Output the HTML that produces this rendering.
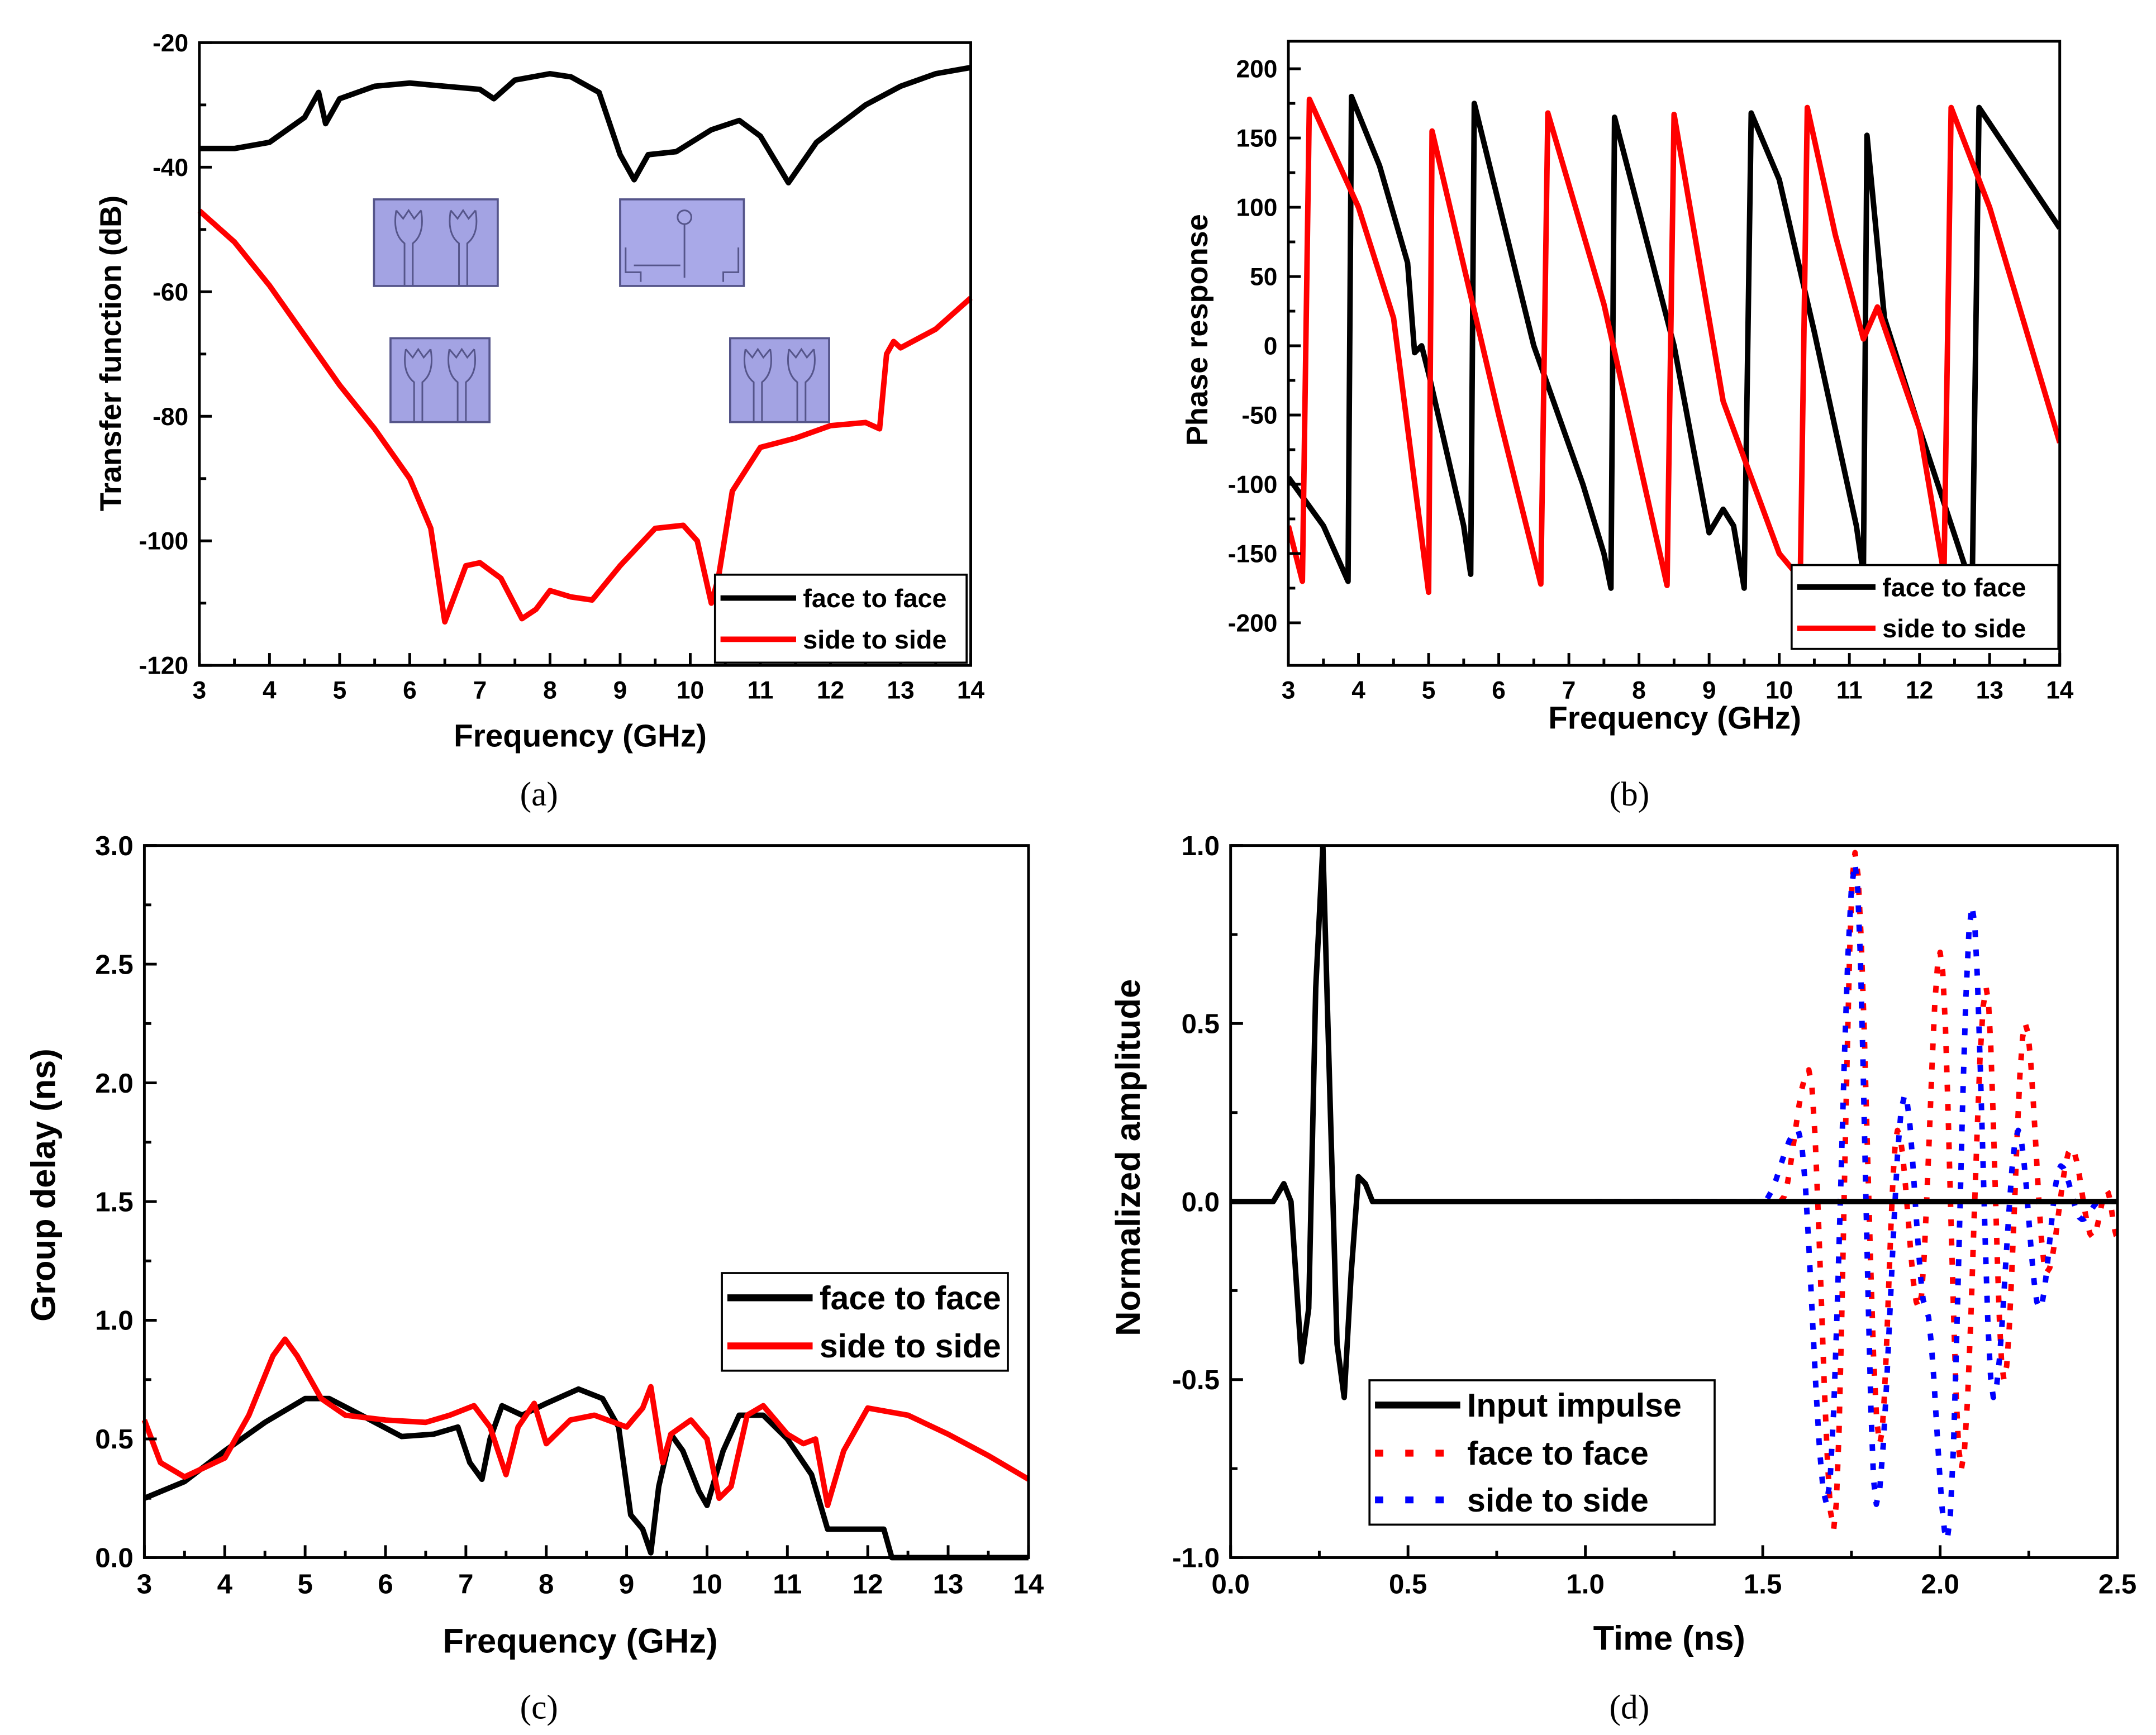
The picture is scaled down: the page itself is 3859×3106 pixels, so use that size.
<!DOCTYPE html>
<html><head><meta charset="utf-8">
<style>
html,body{margin:0;padding:0;background:#fff;}
svg{display:block;}
text{font-family:"Liberation Sans",sans-serif;font-weight:bold;fill:#000;}
.cap{font-family:"Liberation Serif",serif;font-weight:normal;}
</style></head>
<body>
<svg id="fig" width="3859" height="3106" viewBox="0 0 1568 1262" xmlns="http://www.w3.org/2000/svg"></svg>
<script>
// ---- Panel (a) data ----
const aTicksX=[3,4,5,6,7,8,9,10,11,12,13,14];
const aTicksY=[-20,-40,-60,-80,-100,-120];
const aFaceF=[3,3.5,4,4.5,4.7,4.8,5,5.5,6,6.5,7,7.2,7.5,8,8.3,8.7,9,9.2,9.4,9.8,10.3,10.7,11,11.4,11.8,12.5,13,13.5,14];
const aFaceV=[-37,-37,-36,-32,-28,-33,-29,-27,-26.5,-27,-27.5,-29,-26,-25,-25.5,-28,-38,-42,-38,-37.5,-34,-32.5,-35,-42.5,-36,-30,-27,-25,-24];
const aSideF=[3,3.5,4,4.5,5,5.5,6,6.3,6.5,6.6,6.8,7,7.3,7.6,7.8,8,8.3,8.6,9,9.5,9.9,10.1,10.3,10.4,10.6,11,11.5,12,12.5,12.7,12.8,12.9,13,13.5,14];
const aSideV=[-47,-52,-59,-67,-75,-82,-90,-98,-113,-110,-104,-103.5,-106,-112.5,-111,-108,-109,-109.5,-104,-98,-97.5,-100,-110,-106,-92,-85,-83.5,-81.5,-81,-82,-70,-68,-69,-66,-61];
// ---- Panel (b) data ----
const bTicksX=[3,4,5,6,7,8,9,10,11,12,13,14];
const bTicksY=[200,150,100,50,0,-50,-100,-150,-200];
const bFaceF=[3,3.5,3.85,3.9,4.3,4.7,4.8,4.9,5,5.5,5.6,5.65,6.5,7.2,7.5,7.6,7.65,8.5,9,9.2,9.35,9.5,9.6,10,10.5,11.1,11.2,11.25,11.5,12,12.75,12.85,14];
const bFaceV=[-95,-130,-170,180,130,60,-5,0,-20,-130,-165,175,0,-100,-150,-175,165,0,-135,-118,-130,-175,168,120,10,-130,-165,152,20,-60,-175,172,85];
const bSideF=[3,3.2,3.3,4,4.5,5,5.05,6,6.6,6.7,7.5,8.4,8.5,9.2,10,10.3,10.4,10.8,11.2,11.4,12,12.35,12.45,13,14];
const bSideV=[-130,-170,178,100,20,-178,155,-50,-172,168,30,-173,167,-40,-150,-168,172,80,5,28,-60,-165,172,100,-70];
// ---- Panel (c) data ----
const cTicksX=[3,4,5,6,7,8,9,10,11,12,13,14];
const cTicksY=[3.0,2.5,2.0,1.5,1.0,0.5,0.0];
const cFaceF=[3,3.5,4,4.5,5,5.3,5.7,6.2,6.6,6.9,7.05,7.2,7.3,7.45,7.7,8,8.4,8.7,8.9,9.05,9.2,9.3,9.4,9.55,9.7,9.9,10,10.2,10.4,10.7,11,11.3,11.5,12.2,12.3,14];
const cFaceV=[0.25,0.32,0.45,0.57,0.67,0.67,0.6,0.51,0.52,0.55,0.4,0.33,0.5,0.64,0.6,0.65,0.71,0.67,0.55,0.18,0.12,0.02,0.3,0.52,0.45,0.28,0.22,0.45,0.6,0.6,0.5,0.35,0.12,0.12,0,0];
const cSideF=[3,3.2,3.5,4,4.3,4.6,4.75,4.9,5.2,5.5,6,6.5,6.8,7.1,7.3,7.5,7.65,7.85,8,8.3,8.6,9,9.2,9.3,9.45,9.55,9.8,10,10.15,10.3,10.5,10.7,11,11.2,11.35,11.5,11.7,12,12.5,13,13.5,14];
const cSideV=[0.58,0.4,0.34,0.42,0.6,0.85,0.92,0.85,0.67,0.6,0.58,0.57,0.6,0.64,0.55,0.35,0.55,0.65,0.48,0.58,0.6,0.55,0.63,0.72,0.4,0.52,0.58,0.5,0.25,0.3,0.6,0.64,0.52,0.48,0.5,0.22,0.45,0.63,0.6,0.52,0.43,0.33];
// ---- Panel (d) data ----
const dTicksX=[0.0,0.5,1.0,1.5,2.0,2.5];
const dTicksY=[1.0,0.5,0.0,-0.5,-1.0];
const dInT=[0,0.12,0.15,0.17,0.2,0.22,0.24,0.26,0.28,0.3,0.32,0.34,0.36,0.38,0.4,2.5];
const dInV=[0,0,0.05,0,-0.45,-0.3,0.6,1.0,0.3,-0.4,-0.55,-0.2,0.07,0.05,0,0];
const dFaceT=[1.55,1.63,1.7,1.76,1.83,1.88,1.94,2.0,2.06,2.13,2.18,2.24,2.3,2.37,2.43,2.47,2.5];
const dFaceV=[0,0.37,-0.92,0.98,-0.68,0.2,-0.3,0.7,-0.75,0.6,-0.5,0.5,-0.2,0.15,-0.1,0.03,-0.1];
const dSideT=[1.0,1.5,1.6,1.68,1.76,1.82,1.9,1.96,2.02,2.09,2.15,2.22,2.28,2.34,2.4,2.45];
const dSideV=[0,0,0.2,-0.85,0.95,-0.85,0.3,-0.3,-0.95,0.83,-0.55,0.2,-0.3,0.1,-0.05,0];

const NS="http://www.w3.org/2000/svg";
const svg=document.getElementById('fig');
function mk(tag,attrs,parent){const e=document.createElementNS(NS,tag);for(const k in attrs)e.setAttribute(k,attrs[k]);(parent||svg).appendChild(e);return e;}
function txt(s,x,y,size,anchor,parent,cls){const t=mk('text',{x:x,y:y,'font-size':size,'text-anchor':anchor||'middle'},parent);if(cls)t.setAttribute('class',cls);t.textContent=s;return t;}
function scale(d0,d1,p0,p1){return v=>p0+(v-d0)*(p1-p0)/(d1-d0);}

function axes(g,box,xs,ys,xt,yt,fs,fmt,xmin,ymin){
  mk('rect',{x:box.x0,y:box.y0,width:box.x1-box.x0,height:box.y1-box.y0,fill:'none',stroke:'#000','stroke-width':2},g);
  xt.forEach((v,i)=>{const x=xs(v);mk('line',{x1:x,y1:box.y1,x2:x,y2:box.y1-9,stroke:'#000','stroke-width':2},g);
    const t=txt(fmt.x(v),x,box.y1+fs+6,fs,'middle',g);
    if(i<xt.length-1){const xm=xs((v+xt[i+1])/2);mk('line',{x1:xm,y1:box.y1,x2:xm,y2:box.y1-5,stroke:'#000','stroke-width':2},g);}});
  yt.forEach((v,i)=>{const y=ys(v);mk('line',{x1:box.x0,y1:y,x2:box.x0+9,y2:y,stroke:'#000','stroke-width':2},g);
    const t=txt(fmt.y(v),box.x0-8,y+fs*0.35,fs,'end',g);
    if(i<yt.length-1){const ym=ys((v+yt[i+1])/2);mk('line',{x1:box.x0,y1:ym,x2:box.x0+5,y2:ym,stroke:'#000','stroke-width':2},g);}});
}
function poly(g,xs,ys,X,Y,color,w,dash,name){
  const p=X.map((x,i)=>xs(x).toFixed(1)+','+ys(Y[i]).toFixed(1)).join(' ');
  const e=mk('polyline',{points:p,fill:'none',stroke:color,'stroke-width':w,'stroke-linejoin':'round'},g);
  if(dash)e.setAttribute('stroke-dasharray',dash);
  
  
  return e;
}
function osc(T,V){const X=[],Y=[];for(let i=0;i<T.length-1;i++){for(let k=0;k<8;k++){const f=k/8,s=(1-Math.cos(Math.PI*f))/2;X.push(T[i]+(T[i+1]-T[i])*f);Y.push(V[i]+(V[i+1]-V[i])*s);}}X.push(T[T.length-1]);Y.push(V[V.length-1]);return [X,Y];}
function legend(g,x0,y0,x1,y1,items,fs,lineLen){
  const r=mk('rect',{x:x0,y:y0,width:x1-x0,height:y1-y0,fill:'#fff',stroke:'#000','stroke-width':1.5},g);
  
  items.forEach(it=>{const l=mk('line',{x1:x0+4,y1:it.y,x2:x0+4+lineLen,y2:it.y,stroke:it.c,'stroke-width':it.w},g);
    if(it.dash)l.setAttribute('stroke-dasharray',it.dash);
    
    const t=txt(it.t,x0+lineLen+9,it.y+fs*0.35,fs,'start',g);});
}
const f0={x:v=>String(v),y:v=>String(v)};
const f1={x:v=>v.toFixed(1),y:v=>v.toFixed(1)};
const fx0y1={x:v=>String(v),y:v=>v.toFixed(1)};

// Panel a
{const g=mk('g',{});
 const box={x0:145,x1:706,y0:31,y1:484};const xs=scale(3,14,box.x0,box.x1),ys=scale(-20,-120,box.y0,box.y1);
 // insets
 [[272,145,90,63],[451,145,90,63],[284,246,72,61],[531,246,72,61]].forEach((r,i)=>{
  const ig=mk('g',{},g);
  mk('rect',{x:r[0],y:r[1],width:r[2],height:r[3],fill:i==1?'#a9a9e8':'#a3a3e3',stroke:'#55558a','stroke-width':1.5},ig);
  if(i!=1){[0.28,0.72].forEach(f=>{const cx=r[0]+r[2]*f;mk('path',{d:`M${cx-9},${r[1]+8} Q${cx-12},${r[1]+25} ${cx-3},${r[1]+32} L${cx-3},${r[1]+r[3]} M${cx+9},${r[1]+8} Q${cx+12},${r[1]+25} ${cx+3},${r[1]+32} L${cx+3},${r[1]+r[3]} M${cx-9},${r[1]+8} L${cx-4},${r[1]+14} L${cx},${r[1]+8} L${cx+4},${r[1]+14} L${cx+9},${r[1]+8}`,fill:'none',stroke:'#55558a','stroke-width':1.2},ig);});}
  else{const cx=r[0]+r[2]*0.52;mk('circle',{cx:cx,cy:r[1]+13,r:5,fill:'none',stroke:'#55558a','stroke-width':1.2},ig);
   mk('path',{d:`M${cx},${r[1]+18} L${cx},${r[1]+r[3]-6} M${r[0]+4},${r[1]+35} L${r[0]+4},${r[1]+r[3]-10} L${r[0]+15},${r[1]+r[3]-10} L${r[0]+15},${r[1]+r[3]-3} M${r[0]+r[2]-4},${r[1]+35} L${r[0]+r[2]-4},${r[1]+r[3]-10} L${r[0]+r[2]-15},${r[1]+r[3]-10} L${r[0]+r[2]-15},${r[1]+r[3]-3} M${r[0]+10},${r[1]+r[3]-15} L${cx-3},${r[1]+r[3]-15}`,fill:'none',stroke:'#55558a','stroke-width':1.2},ig);}
 });
 poly(g,xs,ys,aFaceF,aFaceV,'#000',4,null,'face-to-face-line');
 poly(g,xs,ys,aSideF,aSideV,'#f00',4,null,'side-to-side-line');
 axes(g,box,xs,ys,aTicksX,aTicksY,18,f0);
 let t=txt('Transfer function (dB)',0,0,22,'middle',g);t.setAttribute('transform','translate(88,257) rotate(-90)');
 t=txt('Frequency (GHz)',422,543,23,'middle',g);
 legend(g,520,418,703,482,[{t:'face to face',y:435,c:'#000',w:4},{t:'side to side',y:465,c:'#f00',w:4}],19,55);
 t=txt('(a)',392,586,25,'middle',g,'cap');}

// Panel b
{const g=mk('g',{});
 const box={x0:937,x1:1498,y0:30,y1:484};const xs=scale(3,14,box.x0,box.x1),ys=scale(200,-200,50,453);
 const cp=mk('clipPath',{id:'cpb'},g);mk('rect',{x:box.x0,y:box.y0,width:box.x1-box.x0,height:box.y1-box.y0},cp);
 const inner=mk('g',{'clip-path':'url(#cpb)'},g);
 poly(inner,xs,ys,bFaceF,bFaceV,'#000',4,null,'face-to-face-line');
 poly(inner,xs,ys,bSideF,bSideV,'#f00',4,null,'side-to-side-line');
 axes(g,box,xs,ys,bTicksX,bTicksY,18,f0);
 let t=txt('Phase response',0,0,22,'middle',g);t.setAttribute('transform','translate(878,240) rotate(-90)');
 t=txt('Frequency (GHz)',1218,530,23,'middle',g);
 legend(g,1303,411,1497,472,[{t:'face to face',y:427,c:'#000',w:4},{t:'side to side',y:457,c:'#f00',w:4}],19,57);
 t=txt('(b)',1185,586,25,'middle',g,'cap');}

// Panel c
{const g=mk('g',{});
 const box={x0:105,x1:748,y0:615,y1:1133};const xs=scale(3,14,box.x0,box.x1),ys=scale(3,0,box.y0,box.y1);
 poly(g,xs,ys,cFaceF,cFaceV,'#000',4,null,'face-to-face-line');
 poly(g,xs,ys,cSideF,cSideV,'#f00',4,null,'side-to-side-line');
 axes(g,box,xs,ys,cTicksX,cTicksY,20,fx0y1);
 let t=txt('Group delay (ns)',0,0,25,'middle',g);t.setAttribute('transform','translate(40,862) rotate(-90)');
 t=txt('Frequency (GHz)',422,1202,25,'middle',g);
 legend(g,525,926,733,997,[{t:'face to face',y:944,c:'#000',w:5},{t:'side to side',y:979,c:'#f00',w:5}],24,62);
 t=txt('(c)',392,1250,25,'middle',g,'cap');}

// Panel d
{const g=mk('g',{});
 const box={x0:895,x1:1540,y0:615,y1:1133};const xs=scale(0,2.5,box.x0,box.x1),ys=scale(1,-1,box.y0,box.y1);
 const cp=mk('clipPath',{id:'cpd'},g);mk('rect',{x:box.x0,y:box.y0,width:box.x1-box.x0,height:box.y1-box.y0},cp);
 const inner=mk('g',{'clip-path':'url(#cpd)'},g);
 let o=osc(dFaceT,dFaceV);poly(inner,xs,ys,o[0],o[1],'#f00',4,'5 9','face-to-face-line');
 o=osc(dSideT,dSideV);poly(inner,xs,ys,o[0],o[1],'#00f',4,'5 9','side-to-side-line').setAttribute('stroke-dashoffset','7');
 poly(inner,xs,ys,dInT,dInV,'#000',4,null,'input-impulse-line');
 axes(g,box,xs,ys,dTicksX,dTicksY,20,f1);
 let t=txt('Normalized amplitude',0,0,25,'middle',g);t.setAttribute('transform','translate(829,842) rotate(-90)');
 t=txt('Time (ns)',1214,1200,25,'middle',g);
 legend(g,996,1004,1247,1109,[{t:'Input impulse',y:1022,c:'#000',w:5},{t:'face to face',y:1057,c:'#f00',w:5,dash:'6 16'},{t:'side to side',y:1091,c:'#00f',w:5,dash:'6 16'}],24,62);
 t=txt('(d)',1185,1250,25,'middle',g,'cap');}
</script>
</body></html>
